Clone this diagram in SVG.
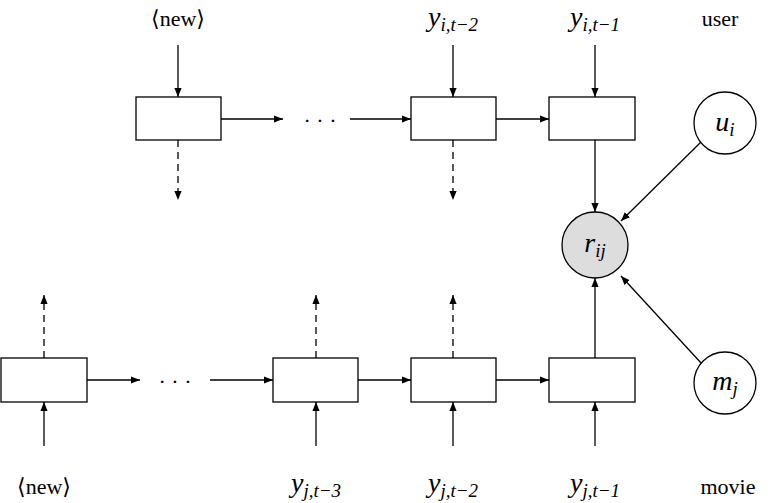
<svg xmlns="http://www.w3.org/2000/svg" width="770" height="503" viewBox="0 0 770 503">
<style>
.b{fill:#fff;stroke:#000;stroke-width:1.3}
.c{stroke:#000;stroke-width:1.3;fill:none}
.d{stroke-dasharray:7,5}
text{font-family:"Liberation Serif","DejaVu Serif",serif;font-size:22px;text-anchor:middle}
.m{font-style:italic;font-size:28px}
.s{font-size:19px}
</style>
<defs><marker id="a" viewBox="0 0 10 10" refX="10" refY="5" markerWidth="9" markerHeight="9" markerUnits="userSpaceOnUse" orient="auto"><path d="M0,1L10,5L0,9z"/></marker></defs>
<g id="connectors" class="c" marker-end="url(#a)">
<line x1="178" y1="45" x2="178" y2="97"/>
<line x1="453" y1="45" x2="453" y2="97"/>
<line x1="595" y1="45" x2="595" y2="97"/>
<line x1="221" y1="119" x2="283" y2="119"/>
<line x1="350" y1="119" x2="411" y2="119"/>
<line x1="496" y1="119" x2="549" y2="119"/>
<line class="d" x1="178" y1="140" x2="178" y2="200"/>
<line class="d" x1="453" y1="140" x2="453" y2="200"/>
<line x1="595" y1="140" x2="595" y2="212"/>
<line x1="702" y1="141" x2="621" y2="221"/>
<line x1="702" y1="364" x2="621" y2="276"/>
<line x1="595" y1="358" x2="595" y2="278"/>
<line x1="87" y1="380" x2="140" y2="380"/>
<line x1="210" y1="380" x2="273" y2="380"/>
<line x1="358" y1="380" x2="411" y2="380"/>
<line x1="496" y1="380" x2="549" y2="380"/>
<line class="d" x1="44" y1="358" x2="44" y2="295"/>
<line class="d" x1="316" y1="358" x2="316" y2="295"/>
<line class="d" x1="453" y1="358" x2="453" y2="295"/>
<line x1="44" y1="446" x2="44" y2="402"/>
<line x1="316" y1="446" x2="316" y2="402"/>
<line x1="453" y1="446" x2="453" y2="402"/>
<line x1="595" y1="446" x2="595" y2="402"/>
</g>
<g id="u1"><rect class="b" x="136" y="97" width="85" height="43"/></g>
<g id="u2"><rect class="b" x="411" y="97" width="85" height="43"/></g>
<g id="u3"><rect class="b" x="549" y="97" width="86" height="43"/></g>
<g id="m1"><rect class="b" x="1" y="358" width="86" height="44"/></g>
<g id="m2"><rect class="b" x="273" y="358" width="85" height="44"/></g>
<g id="m3"><rect class="b" x="411" y="358" width="85" height="44"/></g>
<g id="m4"><rect class="b" x="549" y="358" width="86" height="44"/></g>
<g id="ui"><circle class="b" cx="725" cy="123" r="31"/><text x="725" y="131" class="m">u<tspan class="s" dy="5">i</tspan></text></g>
<g id="mj"><circle class="b" cx="725" cy="383" r="31"/><text x="725" y="390" class="m">m<tspan class="s" dy="5">j</tspan></text></g>
<g id="rij"><circle cx="595" cy="245" r="33" fill="#ddd" stroke="#000" stroke-width="1.3"/><text x="595" y="252" class="m">r<tspan class="s" dy="5">ij</tspan></text></g>
<g id="labels">
<text x="178" y="26">⟨new⟩</text>
<text x="453" y="26" class="m">y<tspan class="s" dy="5">i,t−2</tspan></text>
<text x="595" y="26" class="m">y<tspan class="s" dy="5">i,t−1</tspan></text>
<text x="720" y="26">user</text>
<text x="320" y="128">· · ·</text>
<text x="175" y="389">· · ·</text>
<text x="44" y="494">⟨new⟩</text>
<text x="316" y="492" class="m">y<tspan class="s" dy="5">j,t−3</tspan></text>
<text x="453" y="492" class="m">y<tspan class="s" dy="5">j,t−2</tspan></text>
<text x="595" y="492" class="m">y<tspan class="s" dy="5">j,t−1</tspan></text>
<text x="728" y="494">movie</text>
</g>
</svg>
